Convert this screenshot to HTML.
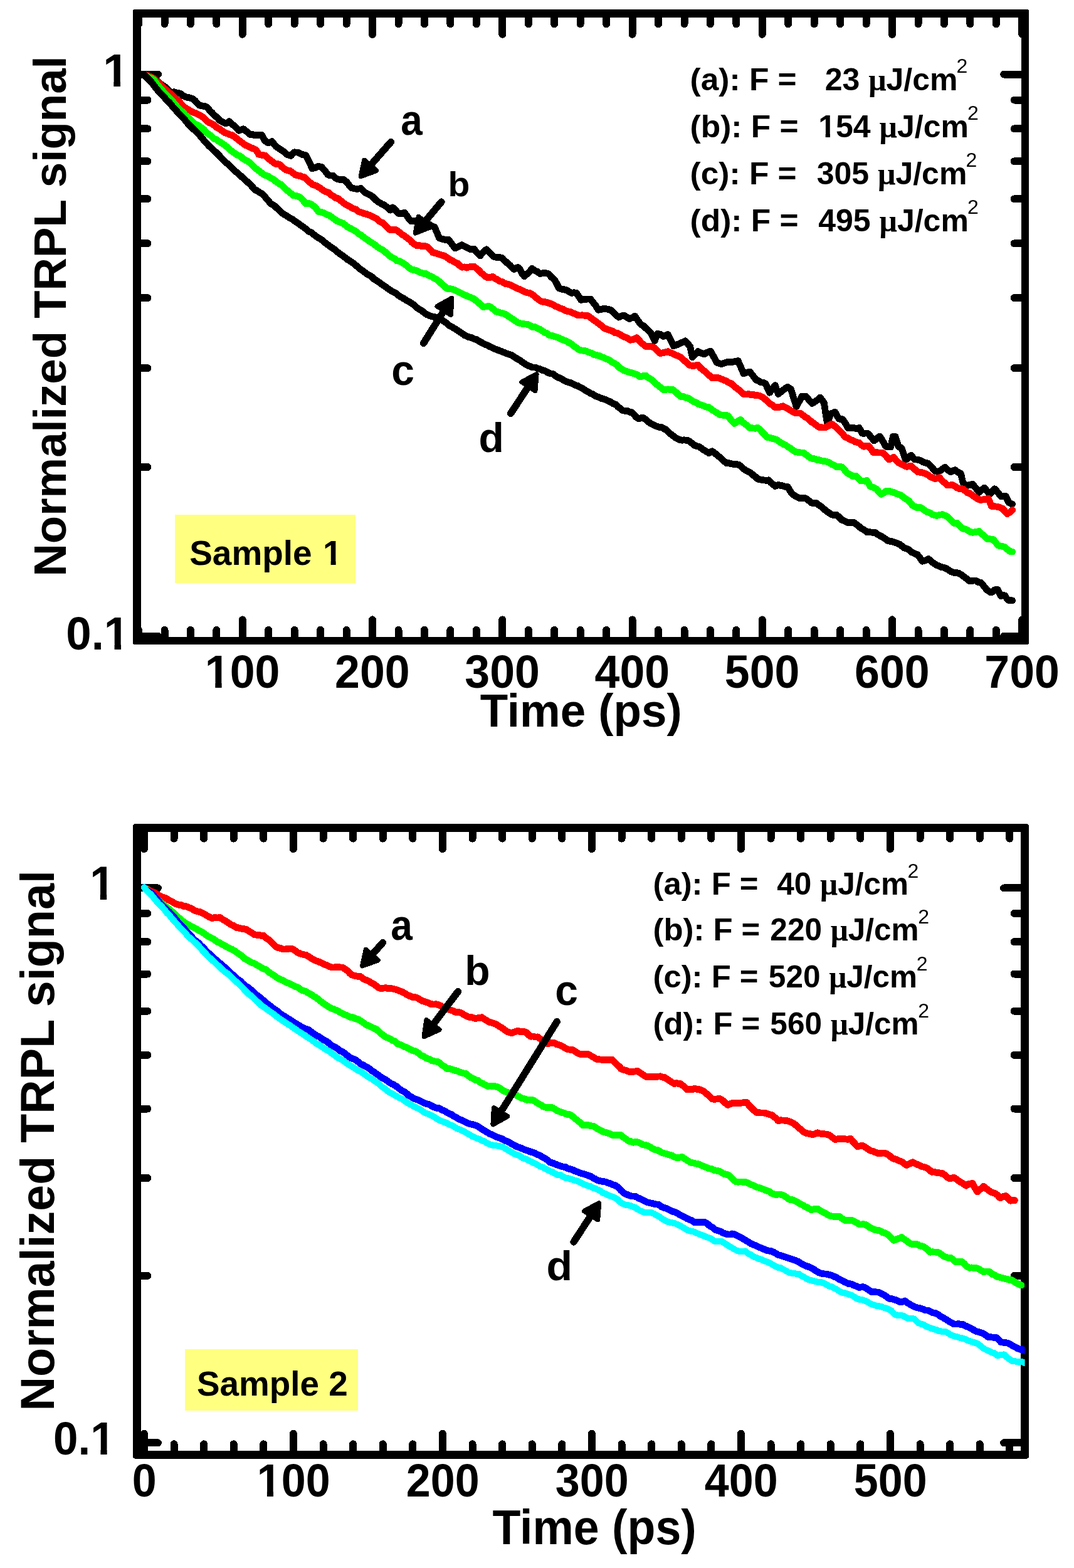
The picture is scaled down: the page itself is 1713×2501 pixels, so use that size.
<!DOCTYPE html>
<html lang="en">
<head>
<meta charset="utf-8">
<title>Normalized TRPL signal vs Time (ps) - Sample 1 and Sample 2</title>
<style>
html, body { margin: 0; padding: 0; background: #fff; }
body { width: 1713px; height: 2501px; overflow: hidden; }
svg { display: block; }
text { font-family: "Liberation Sans", sans-serif; font-weight: bold; fill: #000; }
text.sup { font-weight: normal; }
.mu { font-family: "Liberation Serif", serif; }
.frame { fill: #000; stroke: none; shape-rendering: crispEdges; }
.ticks { fill: none; stroke: #000; stroke-linecap: round; shape-rendering: crispEdges; }
.curve { fill: none; stroke-linejoin: round; stroke-linecap: round; shape-rendering: crispEdges; }
.aline { stroke: #000; stroke-linecap: round; shape-rendering: crispEdges; }
.ahead { fill: #000; stroke: #000; stroke-linejoin: round; shape-rendering: crispEdges; }
.tag { fill: #ffff80; shape-rendering: crispEdges; }
</style>
</head>
<body>
<svg width="1713" height="2501" viewBox="0 0 1713 2501">
<defs>
<clipPath id="clipT"><rect x="218.5" y="21.3" width="1416.2" height="1000.6"/></clipPath>
<clipPath id="clipB"><rect x="218.4" y="1320.6" width="1416.2" height="999.7"/></clipPath>
<clipPath id="k1e"><path d="M-3000 -3000H3000V3000H-0.81V-8.54H-13.12V3000H-23.49V-8.54H-38.61V3000H-3000Z"/></clipPath>
<clipPath id="k1m"><path d="M-3000 -3000H3000V3000H-20.84V-8.54H-33.15V3000H-43.51V-8.54H-58.64V3000H-3000Z"/></clipPath>
<clipPath id="k154"><path d="M-3000 -3000H3000V3000H-212.41V-6.3H-220.88V3000H-228.23V-6.3H-238.66V3000H-3000Z"/></clipPath>
<clipPath id="ks1"><path d="M-3000 -3000H3000V3000H247.48V-6.91H237.96V3000H229.79V-6.91H218.08V3000H-3000Z"/></clipPath>
</defs>
<rect width="1713" height="2501" fill="#fff"/>
<g id="chart-sample1">
<g class="axes">
<path class="frame" fill-rule="evenodd" d="M214.8 15.1H1638.4Q1640.9 15.1 1640.9 17.6V1025.6Q1640.9 1028.1 1638.4 1028.1H214.8Q212.3 1028.1 212.3 1025.6V17.6Q212.3 15.1 214.8 15.1ZM224.7 27.5V1015.7H1628.5V27.5Z"/>
<path class="ticks" stroke-width="12" d="M221 21.3v17M221 1021.9v-17M262.5 21.3v17M262.5 1021.9v-17M303.9 21.3v17M303.9 1021.9v-17M345.4 21.3v17M345.4 1021.9v-17M386.8 21.3v33.5M386.8 1021.9v-33.5M428.2 21.3v17M428.2 1021.9v-17M469.7 21.3v17M469.7 1021.9v-17M511.1 21.3v17M511.1 1021.9v-17M552.6 21.3v17M552.6 1021.9v-17M594 21.3v33.5M594 1021.9v-33.5M635.5 21.3v17M635.5 1021.9v-17M677 21.3v17M677 1021.9v-17M718.4 21.3v17M718.4 1021.9v-17M759.8 21.3v17M759.8 1021.9v-17M801.3 21.3v33.5M801.3 1021.9v-33.5M842.8 21.3v17M842.8 1021.9v-17M884.2 21.3v17M884.2 1021.9v-17M925.6 21.3v17M925.6 1021.9v-17M967.1 21.3v17M967.1 1021.9v-17M1008.5 21.3v33.5M1008.5 1021.9v-33.5M1050 21.3v17M1050 1021.9v-17M1091.5 21.3v17M1091.5 1021.9v-17M1132.9 21.3v17M1132.9 1021.9v-17M1174.3 21.3v17M1174.3 1021.9v-17M1215.8 21.3v33.5M1215.8 1021.9v-33.5M1257.2 21.3v17M1257.2 1021.9v-17M1298.7 21.3v17M1298.7 1021.9v-17M1340.1 21.3v17M1340.1 1021.9v-17M1381.6 21.3v17M1381.6 1021.9v-17M1423 21.3v33.5M1423 1021.9v-33.5M1464.5 21.3v17M1464.5 1021.9v-17M1505.9 21.3v17M1505.9 1021.9v-17M1547.4 21.3v17M1547.4 1021.9v-17M1588.8 21.3v17M1588.8 1021.9v-17M1630.3 21.3v33.5M1630.3 1021.9v-33.5M218.5 118.5h33.5M1634.7 118.5h-33.5M218.5 1014.8h33.5M1634.7 1014.8h-33.5M218.5 745h17M1634.7 745h-17M218.5 587.2h17M1634.7 587.2h-17M218.5 475.2h17M1634.7 475.2h-17M218.5 388.3h17M1634.7 388.3h-17M218.5 317.3h17M1634.7 317.3h-17M218.5 257.3h17M1634.7 257.3h-17M218.5 205.4h17M1634.7 205.4h-17M218.5 159.5h17M1634.7 159.5h-17"/>
</g>
<g class="labels">
<text transform="translate(105.4 919.6) rotate(-90) scale(0.9954 1)" font-size="73">Normalized TRPL signal</text>
<text transform="translate(205.5 137.9) scale(1.03 1.035)" font-size="72" text-anchor="end" clip-path="url(#k1e)">1</text>
<text transform="translate(206.3 1036) scale(1.01 1.033)" font-size="72" text-anchor="end" clip-path="url(#k1e)">0.1</text>
<text transform="translate(386.6 1097.2) scale(0.995 1.033)" font-size="72" text-anchor="middle" clip-path="url(#k1m)">100</text>
<text transform="translate(593.85 1097.2) scale(0.995 1.033)" font-size="72" text-anchor="middle">200</text>
<text transform="translate(801.1 1097.2) scale(0.995 1.033)" font-size="72" text-anchor="middle">300</text>
<text transform="translate(1008.35 1097.2) scale(0.995 1.033)" font-size="72" text-anchor="middle">400</text>
<text transform="translate(1215.6 1097.2) scale(0.995 1.033)" font-size="72" text-anchor="middle">500</text>
<text transform="translate(1422.85 1097.2) scale(0.995 1.033)" font-size="72" text-anchor="middle">600</text>
<text transform="translate(1630.1 1097.2) scale(0.995 1.033)" font-size="72" text-anchor="middle">700</text>
<text transform="translate(926.65 1158.9) scale(1.01 1.024)" font-size="72" text-anchor="middle">Time (ps)</text>
<text transform="translate(1100.6 144.4) scale(1.029 1)" font-size="50" xml:space="preserve">(a): F =</text><text x="1527.5" y="144.4" font-size="50" text-anchor="end">23 <tspan class="mu">μ</tspan>J/cm</text><text x="1525.5" y="116.4" font-size="32" class="sup">2</text>
<text transform="translate(1100.6 218.8) scale(1.029 1)" font-size="50" xml:space="preserve">(b): F =</text><text transform="translate(1544.9 218.8)" font-size="50" text-anchor="end" clip-path="url(#k154)">154 <tspan class="mu">μ</tspan>J/cm</text><text x="1542.9" y="190.8" font-size="32" class="sup">2</text>
<text transform="translate(1100.6 294.2) scale(1.029 1)" font-size="50" xml:space="preserve">(c): F =</text><text x="1542.4" y="294.2" font-size="50" text-anchor="end">305 <tspan class="mu">μ</tspan>J/cm</text><text x="1540.4" y="266.2" font-size="32" class="sup">2</text>
<text transform="translate(1100.6 369) scale(1.029 1)" font-size="50" xml:space="preserve">(d): F =</text><text x="1544.9" y="369" font-size="50" text-anchor="end">495 <tspan class="mu">μ</tspan>J/cm</text><text x="1542.9" y="341" font-size="32" class="sup">2</text>
</g>
<g class="curves" clip-path="url(#clipT)">
<polyline class="curve" stroke="#000" stroke-width="10.8" points="229.3,118.5 233.3,120 237.2,122.2 241.2,123.4 245.1,124.4 249.3,127.8 253.5,131.4 257.7,135.1 261,137.2 264.4,139.6 267.7,143.2 272.8,147.3 277.8,146.7 281.1,147.9 284.5,148.5 287.8,149.2 291.2,152.5 294.5,153.9 297.9,155.3 301.2,155.6 304.6,156.7 307.9,157.7 311.3,160.9 314.6,164.3 318,167.9 321.3,168.6 324.7,169.4 328,169.7 331.4,172.3 334.7,176.7 338.1,179.7 342.3,184.1 346.5,187.7 350.7,192.3 354.4,194.1 358.2,196.4 362,196.3 365.7,193.8 369.5,197.7 373.3,200.4 377,204.1 380.8,208.2 384.6,206.9 388.3,205.8 391.7,208.6 395,211 398.4,214.4 401.9,214.2 405.5,215.5 409,215.1 412.6,215.6 417.6,215.4 422.6,224.6 427.6,227.8 430.8,227 433.9,225.5 437.1,229.8 440.2,233.6 443.3,235.8 446.5,237.7 449.6,240 452.8,242 455.9,245.2 459,247 464.1,248.4 469.1,242.8 472.2,243 475.4,243.2 478.5,245 481.7,246.5 484.8,247 487.9,247.9 493,257.9 498,268.7 503,267.6 508,265.3 513.1,266.5 516.2,270.2 519.3,273.6 523.1,278.8 526.9,280 530.7,279.9 535.7,284.3 538.8,285.9 542,286.3 545.1,286.4 548.2,286.5 553.3,290.6 557,295.6 560.8,299.7 565.8,301 569.2,301.2 572.5,301.1 575.9,300.6 579,303.7 582.2,307 585.3,308.8 588.4,310.1 591.6,311.8 594.7,314.1 600,319.6 600,319.4 604.2,322.6 608.4,325.1 612.6,327 615.9,329.3 619.3,332.3 622.6,335.2 626.4,330.9 630.8,335.1 635.2,340.2 638.5,340.5 641.9,340.3 645.2,339.1 648.6,343.7 651.9,348.7 655.3,352.6 659,352.3 662.8,352.7 666.6,350.9 670.4,350.3 673.7,352.2 677.1,353.9 680.4,356.5 684.6,358 688.8,360.8 693,362 696.7,370.4 700.5,379.5 704.3,381 708,381.9 711.8,382.7 715.6,382.4 718.9,386.9 722.3,391.4 725.6,396 729.4,394.5 733.2,392.3 736.9,390.7 741.5,393.2 746.1,395.4 750.8,398 755.8,397 759.1,401.1 762.5,404.4 765.8,408 769.2,403.6 772.5,400.9 775.9,397.7 780.1,401.8 784.3,406 788.4,410 792.6,410.3 796.8,410.5 801,411.6 805.2,415.9 809.4,419.8 813.6,423.2 816.7,426.9 819.8,429.5 823,427.4 826.1,426.5 829.5,430.1 832.8,436.4 836.2,440.7 840.4,437.1 844.6,433.3 848.7,428.6 852.9,431.4 857.1,433.3 861.3,436.6 865.9,435.7 870.5,435.7 875.1,436.8 879.5,442.1 883.9,445.6 887.7,451.8 891.5,459.5 895.6,461.2 899.8,461.8 904,462.8 907.8,465.2 911.6,467.4 915.3,466.8 919.1,467.2 922.9,472.5 926.6,478.4 930.4,477.8 934.2,477.5 937.9,476.9 941.7,476.9 945.9,482.2 950.1,487.5 954.3,494.3 957.6,493.9 961,492.9 964.3,492 967.7,493 971,493.6 974.4,494.8 978.6,498.8 982.7,502.5 986.9,506.1 991,504.1 995.1,503 999.5,505.9 1003.9,508.4 1008.3,506.8 1012.7,504.2 1016,509 1019.4,514 1022.7,517.8 1026.5,519.9 1030.3,523.8 1034,526.7 1037.8,530.6 1040.9,536.9 1044.1,543.6 1049.1,532.3 1053.5,533.5 1057.9,536.6 1061.7,535 1065.4,533.5 1069.8,542.3 1074.2,551.7 1078.6,550.2 1083,548.6 1086.4,546.6 1089.7,545.7 1093.1,543.8 1096.8,548.1 1100.6,552.6 1104.4,569.9 1108.8,565.2 1113.2,560.4 1116.5,562.6 1119.9,563.6 1123.2,564.9 1126.6,562.7 1129.9,561.7 1133.3,560 1136.6,565.9 1140,572.1 1143.3,578.3 1147.1,579.5 1150.9,580.6 1154.2,579.5 1157.6,578.1 1160.9,577.2 1165,577.7 1169.1,577.2 1173.2,576.4 1177.2,575.6 1181.6,585.6 1186,595.8 1189.4,594.6 1192.7,593.9 1196.1,593.2 1199.4,597.4 1202.8,601.7 1206.1,606 1209.9,607.4 1213.7,609.8 1217.4,610.3 1221.2,612.3 1224.3,619.2 1227.5,626.2 1231.9,620.3 1236.3,614.7 1241.3,628.5 1245.1,625.5 1248.8,622.3 1252.6,619.5 1256.4,617.3 1261.4,620.7 1265.8,634.6 1270.2,648.6 1274.6,640.3 1279,631.9 1282.1,632.4 1285.3,632 1288.6,635.7 1292,640.2 1295.3,643.4 1299.5,640.8 1303.7,638.1 1307.9,634.1 1311,637.9 1314.2,642.2 1319.2,673.3 1322.3,667.1 1325.5,659.4 1328.6,658.7 1331.8,657.2 1334.9,662.6 1338,668.1 1344,668.6 1348.4,675.4 1352.8,682.9 1356.5,682.1 1360.3,682.3 1363.7,683.1 1367,683.8 1370.4,682.5 1375.4,691.3 1378.7,691.2 1382.1,690.9 1385.4,692.2 1389.8,697.9 1394.2,702.9 1398.6,699.6 1403,695.9 1406.4,700.8 1409.7,706.5 1413.1,712.5 1416.8,712.7 1420.6,712.9 1424.4,696.4 1428.1,696.6 1433.2,712.6 1438.2,714.8 1441.3,724.6 1444.5,733.5 1448.9,730.4 1453.3,726.3 1458.3,732.7 1463.3,733.2 1467.5,734.2 1471.7,736.6 1475.9,738 1480.9,739.5 1484.3,743.1 1487.6,747 1491,751.3 1496,752.1 1499.7,750.7 1503.5,747.9 1507.3,745.3 1511.7,749.5 1516.1,752.7 1519.8,750.8 1523.6,749.6 1528,753.3 1532.4,755.2 1536.2,770.7 1539.9,772.9 1543.7,774.4 1547.5,773.2 1551.3,772.1 1554.6,776.5 1558,780.6 1561.3,785.3 1565.7,781.7 1570.1,778 1574.5,783.7 1578.9,788.5 1582.7,783.3 1586.4,779.7 1589.8,783.3 1593.1,787.4 1596.5,791.7 1600.3,791.7 1604,791.4 1609,801.6 1614.6,804"/>
<polyline class="curve" stroke="#f00" stroke-width="10.8" points="229.3,118.5 233.3,119.8 237.2,121.5 241.2,123 245.1,125.3 249.3,129.1 253.5,132.6 257.7,137.3 261.9,140.9 266.1,144.3 270.3,148 274.4,151.5 278.6,155.5 282.8,159.4 287,163.6 291.2,168 295.4,172 299.6,174.2 303.8,176.9 307.9,179.1 312.1,180.5 316.3,182.8 320.5,184.7 324.7,187.7 328.9,192 333.1,195.3 337.3,197.2 341.4,199.5 345.6,203.1 349.8,205.4 354,208.5 358.2,211.4 362.4,213 366.6,214.7 370.8,215.8 374.9,218.9 379.1,222.2 383.3,225.4 387.5,228.5 391.7,231.7 395.9,233.3 400.1,235.7 404.3,237.1 408.4,239 412.6,246.2 416.3,247.1 420.1,247.6 423.2,248.3 426.4,251.5 430.2,254.6 433.9,257.5 437.1,259.9 440.2,261.5 443.3,261.5 446.5,262.7 449.6,266.2 452.8,268.9 455.9,270.7 459,272.1 462.2,272.3 465.3,274.3 468.5,277 471.6,279.1 475.4,280 479.1,280.7 482.3,282.4 485.4,282.7 488.6,285.9 491.7,288.8 494.8,291.4 498,293.9 501.8,295.5 505.5,296.7 508.7,298.8 511.8,300.7 514.9,303.1 518.1,305.3 521.2,306.3 524.4,307.4 527.5,310.7 530.7,312.3 534.6,315.2 538.6,316.3 542.6,319.4 546.6,322.5 550.8,325.9 555,327.8 559.2,330.4 563.4,332.7 567.6,334 571.8,337.3 575.9,338.8 580.1,340.4 584.3,341.4 588.5,343 592.7,344.7 596.9,346.8 601.3,349.4 605.7,353.5 610.1,355.1 613.8,358.8 617.6,362.7 621.4,366.4 625.8,366.6 630.2,366.1 633.9,368 637.7,371 641.5,374.4 645.2,376.3 649.2,379.5 653.3,382.5 657.3,386.8 661.3,389.6 665.3,392.1 669.1,391.7 672.9,392.7 676.6,392.1 680.4,393.1 683.8,395.5 687.1,399.2 690.5,402.9 693.8,403.4 697.2,404.4 700.5,405.7 704.7,407 708.9,408.1 713.1,410.8 717.3,414 721.4,415.8 725.6,418.4 729.4,419.9 733.2,423.8 736.9,426.2 740.7,425.9 744.5,427.1 748.2,425.9 752,425.8 755.8,425.1 759.8,427.9 763.8,431.3 767.8,435.5 771.9,438.7 775.9,442.3 779.2,442.7 782.6,442.2 785.9,441.2 789.7,444.2 793.5,446 797.2,448.5 801,449.5 805.2,452.3 809.4,453.1 813.6,454.2 817.8,456.3 821.9,458.3 826.1,460.6 830.2,461.9 834.2,463.9 838.2,466.1 842.2,467 846.2,467.8 850.6,471 855,474.7 859.4,478.3 863.8,481.1 868,481.4 872.2,482.4 876.4,483.8 880.6,485.2 884.8,487.8 888.9,489.6 893.1,491.4 897.3,492.8 901.5,495.4 905.5,496.7 909.5,497.3 913.6,499.4 917.6,500.7 921.6,502.8 925.4,503 929.1,502.8 932.9,503.3 936.7,503.3 940.5,505.5 944.2,508.3 948,511.3 951.8,513.8 955.9,517 960.1,520.1 964.3,523.8 968.5,525.2 972.7,526.8 976.9,528 980.5,530.7 984.2,531.2 987.8,532.9 991.4,535 995.1,537.2 998.4,538.3 1001.8,539.9 1005.1,542.3 1008.5,541.8 1011.8,541 1015.2,538.7 1018.9,542.4 1022.7,546.5 1026.5,549.8 1030.3,552.6 1034.4,552.8 1038.6,552.7 1042.8,554.2 1046.2,557.4 1049.5,560.6 1052.9,563.6 1057.1,562.9 1061.2,561.8 1065.4,560.8 1069.4,562.6 1073.5,564.3 1077.5,566.2 1081.5,567.8 1085.5,569.9 1089.3,573.1 1093.1,576.5 1096.8,579.9 1100.6,582.9 1104.8,583.5 1109,583.1 1113.2,582.3 1116.9,586.4 1120.7,589.8 1124.5,592.5 1128.2,596.1 1132,599.5 1135.8,602.7 1139.1,602.2 1142.5,602.8 1145.8,602.7 1149.8,604.3 1153.9,606 1157.9,607.6 1161.9,610 1165.9,611.4 1169.9,615.2 1174,618.6 1178,621.5 1182,625 1186,628.6 1189.8,629.1 1193.6,628.6 1197.3,629.4 1201.1,629.2 1204.9,630.7 1208.6,630.8 1212.4,631.5 1216.2,633.6 1220.2,636.7 1224.2,640.1 1228.2,643.9 1232.3,646.1 1236.3,649.7 1240.5,649.8 1244.7,649 1248.8,647.8 1252.9,650.1 1256.9,652.1 1260.9,654.6 1264.9,657.2 1268.9,659 1272.7,659 1276.5,659 1280.3,662 1284,664.9 1287.8,666.9 1291.6,670.3 1295.3,673.7 1299.1,675.9 1302.9,679 1306.6,681.5 1310,681.7 1313.3,682.1 1316.7,681.6 1320,679.8 1323.4,678 1326.7,676.4 1330.1,678.9 1333.4,681.2 1336.8,684.5 1340.4,688.4 1344.1,692.1 1347.7,696.8 1351.9,698.6 1356.1,701.2 1360.3,702.5 1363.7,704.7 1367,705.5 1370.4,706.3 1374.1,709.8 1377.9,712.3 1381.7,711.4 1385.4,711.3 1389.2,716.3 1393,721.7 1396.7,721.8 1400.5,721.9 1404.3,722 1408,722.3 1411.4,725.4 1414.7,729.2 1418.1,732.8 1421.9,730.8 1425.6,729.5 1429.4,734.5 1433.2,738 1436.5,739.8 1439.9,741.4 1443.2,743.3 1446.6,744.3 1449.9,743.5 1453.3,743.4 1456.6,746.7 1460,749.4 1463.3,752.5 1466.7,753.1 1470,753.7 1473.4,754.5 1477.1,756 1480.9,758.1 1484.3,760.7 1487.6,761.9 1491,763.6 1494.7,762.6 1498.5,761.7 1502.7,767 1506.9,770.3 1511.1,774 1514.8,774 1518.6,773.3 1522.4,775 1526.1,777.9 1529.5,779.3 1532.8,779.3 1536.2,780.2 1539.5,782.9 1542.9,786 1546.2,786.5 1550.4,789.4 1554.6,792.6 1558.8,795.2 1563.8,797.6 1568,796.8 1572.2,796.6 1576.4,795.3 1581.4,807.3 1584.8,807.7 1588.1,807.9 1591.5,808.4 1595.2,809.6 1599,811.2 1602.8,815.4 1606.5,819.6 1610.6,817.1 1614.6,813.5"/>
<polyline class="curve" stroke="#0f0" stroke-width="10.8" points="229.3,118.5 233.3,121.5 237.2,123.1 241.2,124.5 245.1,127.3 249.3,132.8 253.5,138 257.7,143.2 261.9,147.6 266.1,151.8 270.3,156.1 274.4,160.8 278.6,165.4 282.8,170.7 287,175.1 291.2,178.5 295.4,183.2 299.6,186.9 303.8,191.2 307.9,195.5 312.1,198.2 316.3,199.9 320.5,203.3 324.7,206.2 328.9,211.1 333.1,214.3 337.3,217.2 341.4,221.1 345.6,222.9 349.8,226 354,228.4 358.2,231.4 362.4,234.6 366.6,238.6 370.8,241.9 374.9,244.6 379.1,247.5 383.3,249 387.5,252.9 391.7,255.6 395.9,257.6 400.1,261 404.3,265.1 408.4,269 413.8,273 417,275.6 420.1,278.3 423.9,280 427.6,280.9 431.4,283.8 435.2,285.6 438.3,287.8 441.5,290.8 445.2,293 449,294.7 452.1,298.1 455.3,301.1 458.4,303.9 461.6,306.7 464.7,309.1 467.8,311.7 471.6,312.4 475.4,313.2 478.5,314.6 481.7,317.8 484.8,321.2 487.9,324.7 491.7,324.3 495.5,325.1 498.6,327.6 501.8,329.5 504.9,333.7 508,337.6 512.5,338.2 517,339.9 521.5,342.2 525.7,343.8 529.9,346.8 534.1,350 538.3,353 542.4,354.2 546.6,356 550.8,359 555,362.4 559.2,364.3 563.4,366.7 567.6,369.1 571.8,372.8 575.9,375.2 580.1,378.3 584.3,381.3 588.5,384.5 592.7,387.1 596.9,389.7 600.8,392.9 604.7,395.7 608.6,397.6 612.6,400.3 616.8,404.2 620.9,407.6 625.1,410.6 628.9,412.4 632.7,415.6 636.4,416.4 640.2,417.8 644,420.6 647.7,422.9 651.5,426.3 655.3,429.2 659.3,430.6 663.3,431.1 667.3,433.3 671.4,435 675.4,436.2 679.4,436.7 683.4,439.1 687.4,440.8 691.5,443.1 695.5,445.2 699.9,448.5 704.3,452.8 708.7,456.3 713.1,460.4 717.3,460.4 721.4,461.2 725.6,462.8 729.4,464.9 733.2,466.5 736.9,468.3 740.7,470.4 744.5,471.9 748.2,473.6 752,474.9 755.8,476.5 759.5,479.9 763.3,482.8 767.1,486.4 770.9,489.5 774.2,489.1 777.6,488.8 780.9,488.7 784.3,491.2 787.6,493.6 791,496.9 794.7,497.8 798.5,499.2 802.3,499.9 806,501 810.1,503.9 814.1,506.4 818.1,509.4 822.1,511.8 826.1,514.5 829.9,515.7 833.7,516.5 837.4,517 841.2,517.2 845.2,519.2 849.2,521.6 853.3,521.6 857.3,523.8 861.3,525.3 865.1,527.9 868.8,530.4 872.6,531.7 876.4,534.8 880.2,535.3 883.9,536.4 887.7,537.9 891.5,539 895.2,541 899,542.5 902.8,543.9 906.5,546 910.6,548.1 914.6,551.6 918.6,554.2 922.6,557.3 926.6,558.8 930.8,559.3 935,560 939.2,562 943.4,563.3 947.6,565.6 951.8,566.6 955.8,567.6 959.8,569.5 963.8,570.9 967.8,572.7 971.9,574.4 975.7,577.2 979.6,579.2 983.5,581.7 987.3,585.9 991.2,588.2 995.1,591 998.8,592.2 1002.6,593.4 1006.4,594.5 1010.2,595.4 1013.5,596.9 1016.9,597.8 1020.2,600.8 1023.6,600.3 1026.9,599.2 1030.3,599.3 1034,602.6 1037.8,604.5 1041.6,607.3 1045.3,611.2 1049.5,614.7 1053.7,618 1057.9,621.7 1061.7,621.3 1065.4,620.9 1069.2,621.7 1073,621.3 1077.2,624.8 1081.3,628.8 1085.5,632.4 1089.7,632.5 1093.9,634.5 1098.1,635 1102.3,638.3 1106.5,640.6 1110.7,642.3 1114.7,644.8 1118.7,646.1 1122.7,647.3 1126.7,649.1 1130.8,649.8 1135.2,653.3 1139.5,656 1143.9,658.9 1148.3,661.5 1152.5,662.2 1156.7,662.4 1160.9,662.9 1164.3,667.7 1167.6,671.5 1171,675.4 1174.3,673.7 1177.7,671.4 1181,669.5 1184.8,673.5 1188.5,676.4 1192.3,679 1196.1,682.8 1200.3,682.8 1204.5,683.3 1208.6,682.3 1212.4,685.6 1216.2,689.7 1219.9,693.5 1223.7,697.5 1227.5,698.1 1231.3,699.3 1235,700 1238.8,701.5 1242.6,704.1 1246.3,706.7 1250.1,708.8 1253.9,710.6 1257.6,713.1 1261.4,715.4 1265.2,718.3 1268.9,720.8 1273.1,721.3 1277.3,722 1281.5,722.2 1285.7,725.3 1289.9,728.4 1294.1,731.1 1298.3,731.5 1302.4,733.3 1306.6,733.6 1310.8,735 1315,735.7 1319.2,736.5 1323,738.1 1326.7,740.7 1330.5,742.3 1334.3,744.8 1338.5,744.5 1342.7,744.8 1346.5,748.7 1350.3,753.3 1353.6,755.9 1357,757.6 1360.3,759.5 1365.3,759 1369.1,763.1 1372.9,766.9 1376.2,767 1379.6,767.2 1382.9,766.5 1387.9,775.7 1391.3,776.9 1394.6,778.3 1398,780.1 1401.8,784.6 1405.5,788.2 1409.3,786.2 1413.1,783.4 1416.4,783.7 1419.8,783.7 1423.1,784.9 1426.5,785.7 1429.8,787.4 1433.2,788.5 1437.4,790.2 1441.5,793.4 1445.7,796.2 1449.1,798.4 1452.4,802.2 1455.8,806.6 1459.5,808 1463.3,810 1468.3,809.4 1471.7,811.8 1475,814.2 1478.4,816.5 1482.6,817.6 1486.8,820.5 1491,822 1495.1,822.3 1499.3,821.1 1503.5,820.6 1507.3,822.4 1511.1,823.9 1514.4,827.3 1517.8,830.7 1521.1,834.3 1526.1,834.2 1529.9,837.8 1533.7,841.7 1537.4,843.5 1541.2,844.4 1544.6,846.5 1547.9,848.4 1551.3,849.3 1554.6,848.7 1558,848.2 1561.3,847.4 1565.5,851.4 1569.7,854.7 1573.9,859.3 1577.2,859.3 1580.6,860.2 1583.9,860.3 1587.7,864.6 1591.5,869.7 1594.8,870.7 1598.2,871.3 1601.5,872.1 1605.9,875.6 1610.3,879.3 1614.6,880.1"/>
<polyline class="curve" stroke="#000" stroke-width="10.8" points="229.3,118.5 232.6,122.2 236.8,126.2 240.9,130.3 245.1,135.7 249.3,141.4 253.5,146.4 257.7,150.7 261.9,155 266.1,160.2 270.3,163.6 274.4,168.9 278.6,173.7 282.8,178.4 287,183.2 291.2,187.2 295.4,191.7 299.6,197.2 303.8,201.3 307.9,205.5 312.1,209 316.3,213.2 320.5,218.1 324.7,223.3 328.9,228 333.1,232.6 337.3,236.4 341.4,240.1 345.6,244.1 349.8,248.3 354,253.2 358.2,257.5 362.4,260.7 366.6,264.5 370.8,268.9 374.9,272.7 379.1,276.2 383.3,279.9 387.5,283.8 391.7,287.5 395.9,291.3 399.3,294.4 402.8,298.3 406.3,302.4 410.1,304.3 413.8,306.8 417,308.6 420.1,310.9 423.2,314.7 426.4,318.2 431.4,324.4 434.5,326.4 437.7,328.3 440.8,331.2 444,334.2 447.1,337.4 450.3,339.9 454.5,342.9 458.7,345.2 462.9,348 467.1,350.3 471.3,353.3 475.4,356.2 479.6,359.2 483.8,362 488,365.2 492.2,369 496.4,370.8 500.6,374.2 504.8,377.3 508.9,380 513.1,382.4 517.3,386.4 521.5,389.2 525.7,392.8 529.9,395.4 534.1,398.1 538.3,401.9 542.4,405.2 546.6,408 550.8,411 555,414.4 559.2,417 563.4,419.8 567.6,423.2 571.8,426.9 575.9,430.2 580.1,432.9 584.3,436.4 588.5,438.8 592.7,441.3 596.9,445.4 600.8,447.5 604.6,450.3 608.5,453.1 612.4,455.7 616.2,458.4 620.1,461.4 624.1,463.9 628.1,465.9 632.2,468.4 636.2,471.6 640.2,474.2 644.2,476.4 648.2,479.1 652.3,481.3 656.3,483.6 660.3,486.4 664.3,490.5 668.3,493.1 672.4,495.2 676.4,498.6 680.4,501.5 684.4,503.2 688.4,504.8 692.5,505.5 696.5,506.5 700.5,507 704.5,510.4 708.5,512.7 712.6,515.5 716.6,519.5 720.6,521.3 724.6,523.8 728.6,526.2 732.7,528.9 736.7,531.6 740.7,534.6 744.7,536.3 748.7,538 752.8,538.8 756.8,540.8 760.8,541.9 764.8,544.7 768.8,546.6 772.9,549.1 776.9,550.6 780.9,552.7 784.9,554.4 788.9,556.4 793,558 797,559.4 801,561 805,562.6 809,564.1 813.1,565.6 817.1,567 821.1,570.2 825.1,572.3 829.1,574.4 833.2,577.7 837.2,580.3 841.2,582.7 845.2,584.3 849.2,585.9 853.3,586 857.3,587.6 861.3,588.5 865.3,590.5 869.3,591.6 873.4,594 877.4,595.9 881.4,596 885.4,599.1 889.4,601.9 893.5,603.1 897.5,605.6 901.5,607.8 905.5,609.4 909.5,610.5 913.6,612.4 917.6,614.3 921.6,615.5 925.6,617.9 929.6,619.6 933.7,622.7 937.7,624.7 941.7,627.5 945.7,628.8 949.7,631.8 953.8,633 957.8,635 961.8,636.1 965.8,637.6 969.8,639.5 973.9,641 977.9,643.8 981.9,645 985.5,648.9 989,651.3 992.6,654.3 996.3,655.4 1000.1,655.3 1003.9,657.1 1007.6,657.8 1011,660.9 1014.3,665 1017.7,667.6 1021.5,667.1 1025.2,665.9 1029.4,668.8 1033.6,672.7 1037.8,675.5 1042.2,677.8 1046.6,679.8 1051,681.3 1055.4,681.6 1058.7,683.6 1062.1,685.3 1065.4,688.2 1069.6,692.2 1073.8,695.3 1078,698.7 1081.3,700 1084.7,701.6 1088,702.2 1091.4,701.8 1094.7,702.4 1098.1,702.7 1101.4,705.3 1104.8,707.7 1108.1,710.5 1111.5,711.7 1114.8,712.5 1118.2,714.5 1122.4,717.7 1126.6,720.1 1130.8,722.7 1135.8,719.8 1139.1,722.1 1142.5,724.8 1145.8,727.5 1150,731 1154.2,735 1158.4,738.5 1162.6,738.7 1166.8,739.8 1171,740.6 1174.7,740.4 1178.5,741.3 1181.8,743.7 1185.2,747.3 1188.5,749.4 1191.9,751.5 1195.2,752.9 1198.6,755.3 1201.9,758.4 1205.3,760.8 1208.6,764.1 1213,765 1217.4,765.7 1221.8,766.3 1226.2,765.8 1229.6,770 1232.9,772.5 1236.3,775.5 1241.3,773.4 1245.1,774.5 1248.8,774.9 1252.6,776.3 1256.4,776.6 1260.2,783 1263.9,788.3 1268.1,791 1272.3,793.2 1276.5,794.9 1280.3,794.8 1284,794.6 1287.4,796.4 1290.7,799 1294.1,802.1 1297.8,802.9 1301.6,802.2 1305.8,805.5 1310,808.3 1314.2,811.8 1318.4,815.5 1322.5,818.1 1326.7,821 1330.5,821.4 1334.3,821.2 1338.5,824.9 1342.7,829.2 1346.1,830.7 1349.4,832.4 1352.8,833.7 1356.1,833.5 1359.5,833.8 1362.8,833.7 1366.2,836.7 1369.5,839.1 1372.9,842.2 1376.2,844.1 1379.6,846.3 1382.9,848.8 1387.1,848.6 1391.3,849.3 1395.5,849 1399.7,852.3 1403.9,854.7 1408,856.7 1411.8,859.3 1415.6,862.2 1419.3,863.4 1423.1,863.9 1427.3,865.4 1431.5,866.6 1435.7,868.6 1439,871.4 1442.4,874 1445.7,875 1449.5,876.9 1453.3,880.4 1456.6,881.9 1460,883.5 1463.3,884.7 1467.1,889.5 1470.9,895.3 1474.2,894.4 1477.6,893.3 1480.9,891.6 1484.3,894.1 1487.6,897.2 1491,899.7 1494.3,901.5 1497.7,902.7 1501,904.6 1506,905.3 1509.8,907.1 1513.6,909.5 1517.3,912 1521.1,913.3 1524.9,913.6 1528.6,914 1532,916 1535.3,918.1 1538.7,920.7 1542.5,923.8 1546.2,926.8 1549.6,926.9 1552.9,925.9 1556.3,926.1 1560.1,928.5 1563.8,929 1567.2,932.5 1570.5,936.5 1573.9,940.8 1577,943 1580.2,945 1583.3,944 1586.4,940.8 1591.5,940.7 1596.5,950.7 1599.6,949.3 1602.8,950.1 1605.9,954.9 1609,957.7 1614.6,957.9"/>
</g>
<g class="annot">
<rect class="tag" x="278.9" y="820.9" width="288.2" height="109.1"/>
<text transform="translate(302.2 901.3) scale(0.981 1)" font-size="56" clip-path="url(#ks1)">Sample <tspan dx="2.2">1</tspan></text>
<text transform="translate(639.3 214.8) scale(0.94 1.04)" font-size="66">a</text>
<text transform="translate(714.6 313.3) scale(1.02 1)" font-size="56">b</text>
<text transform="translate(624.3 613.6) scale(1 1.05)" font-size="66">c</text>
<text x="763.4" y="720.7" font-size="66">d</text>
<line class="aline" x1="623.5" y1="226.5" x2="589.4" y2="265.4" stroke-width="11.3"/><polygon class="ahead" stroke-width="8" points="575.6,281.2 581.2,255.6 600.2,272.2"/>
<line class="aline" x1="704" y1="322" x2="676.1" y2="355.5" stroke-width="11.3"/><polygon class="ahead" stroke-width="8" points="662.6,371.6 667.7,345.8 687.1,362"/>
<line class="aline" x1="675.5" y1="547.5" x2="709.3" y2="493.6" stroke-width="11.3"/><polygon class="ahead" stroke-width="8" points="720.5,475.8 719,502 697.6,488.5"/>
<line class="aline" x1="814.5" y1="659.5" x2="844.1" y2="614.6" stroke-width="11.3"/><polygon class="ahead" stroke-width="8" points="855.6,597 853.5,623.2 832.4,609.3"/>
</g>
</g>
<g id="chart-sample2">
<g class="axes">
<path class="frame" fill-rule="evenodd" d="M214.7 1314.4H1638.3Q1640.8 1314.4 1640.8 1316.9V2324Q1640.8 2326.5 1638.3 2326.5H214.7Q212.2 2326.5 212.2 2324V1316.9Q212.2 1314.4 214.7 1314.4ZM224.6 1326.8V2314.1H1628.4V1326.8Z"/>
<path class="ticks" stroke-width="12" d="M229.9 1320.6v33.5M229.9 2320.3v-33.5M277.5 1320.6v17M277.5 2320.3v-17M325.1 1320.6v17M325.1 2320.3v-17M372.7 1320.6v17M372.7 2320.3v-17M420.3 1320.6v17M420.3 2320.3v-17M467.9 1320.6v33.5M467.9 2320.3v-33.5M515.5 1320.6v17M515.5 2320.3v-17M563.1 1320.6v17M563.1 2320.3v-17M610.7 1320.6v17M610.7 2320.3v-17M658.3 1320.6v17M658.3 2320.3v-17M705.9 1320.6v33.5M705.9 2320.3v-33.5M753.5 1320.6v17M753.5 2320.3v-17M801.1 1320.6v17M801.1 2320.3v-17M848.7 1320.6v17M848.7 2320.3v-17M896.3 1320.6v17M896.3 2320.3v-17M943.9 1320.6v33.5M943.9 2320.3v-33.5M991.5 1320.6v17M991.5 2320.3v-17M1039.1 1320.6v17M1039.1 2320.3v-17M1086.7 1320.6v17M1086.7 2320.3v-17M1134.3 1320.6v17M1134.3 2320.3v-17M1181.9 1320.6v33.5M1181.9 2320.3v-33.5M1229.5 1320.6v17M1229.5 2320.3v-17M1277.1 1320.6v17M1277.1 2320.3v-17M1324.7 1320.6v17M1324.7 2320.3v-17M1372.3 1320.6v17M1372.3 2320.3v-17M1419.9 1320.6v33.5M1419.9 2320.3v-33.5M1467.5 1320.6v17M1467.5 2320.3v-17M1515.1 1320.6v17M1515.1 2320.3v-17M1562.7 1320.6v17M1562.7 2320.3v-17M1610.3 1320.6v17M1610.3 2320.3v-17M218.4 1416.4h33.5M1634.6 1416.4h-33.5M218.4 2301.3h33.5M1634.6 2301.3h-33.5M218.4 2034.9h17M1634.6 2034.9h-17M218.4 1879.1h17M1634.6 1879.1h-17M218.4 1768.5h17M1634.6 1768.5h-17M218.4 1682.8h17M1634.6 1682.8h-17M218.4 1612.7h17M1634.6 1612.7h-17M218.4 1553.5h17M1634.6 1553.5h-17M218.4 1502.2h17M1634.6 1502.2h-17M218.4 1456.9h17M1634.6 1456.9h-17"/>
</g>
<g class="labels">
<text transform="translate(86.1 2250.4) rotate(-90) scale(0.9929 1)" font-size="76">Normalized TRPL signal</text>
<text transform="translate(183.3 1435.3) scale(1 1.05)" font-size="72" text-anchor="end" clip-path="url(#k1e)">1</text>
<text transform="translate(183.6 2320) scale(0.985 1.035)" font-size="72" text-anchor="end" clip-path="url(#k1e)">0.1</text>
<text transform="translate(230.2 2387.3) scale(0.972 1.04)" font-size="72" text-anchor="middle">0</text>
<text transform="translate(468.2 2387.3) scale(0.972 1.04)" font-size="72" text-anchor="middle" clip-path="url(#k1m)">100</text>
<text transform="translate(706.2 2387.3) scale(0.972 1.04)" font-size="72" text-anchor="middle">200</text>
<text transform="translate(944.2 2387.3) scale(0.972 1.04)" font-size="72" text-anchor="middle">300</text>
<text transform="translate(1182.2 2387.3) scale(0.972 1.04)" font-size="72" text-anchor="middle">400</text>
<text transform="translate(1420.2 2387.3) scale(0.972 1.04)" font-size="72" text-anchor="middle">500</text>
<text transform="translate(948.15 2463.2) scale(0.98 1.03)" font-size="75" text-anchor="middle">Time (ps)</text>
<text transform="translate(1041.5 1426.5) scale(1.017 1)" font-size="50" xml:space="preserve">(a): F =</text><text transform="translate(1449 1426.5) scale(0.99 1)" font-size="50" text-anchor="end">40 <tspan class="mu">μ</tspan>J/cm</text><text x="1447.6" y="1399.5" font-size="32" class="sup">2</text>
<text transform="translate(1041.5 1500.3) scale(1.017 1)" font-size="50" xml:space="preserve">(b): F =</text><text transform="translate(1465.6 1500.3) scale(0.99 1)" font-size="50" text-anchor="end">220 <tspan class="mu">μ</tspan>J/cm</text><text x="1464.2" y="1473.3" font-size="32" class="sup">2</text>
<text transform="translate(1041.5 1575.1) scale(1.017 1)" font-size="50" xml:space="preserve">(c): F =</text><text transform="translate(1463.1 1575.1) scale(0.99 1)" font-size="50" text-anchor="end">520 <tspan class="mu">μ</tspan>J/cm</text><text x="1461.7" y="1548.1" font-size="32" class="sup">2</text>
<text transform="translate(1041.5 1649.5) scale(1.017 1)" font-size="50" xml:space="preserve">(d): F =</text><text transform="translate(1465.6 1649.5) scale(0.99 1)" font-size="50" text-anchor="end">560 <tspan class="mu">μ</tspan>J/cm</text><text x="1464.2" y="1622.5" font-size="32" class="sup">2</text>
</g>
<g class="curves" clip-path="url(#clipB)">
<polyline class="curve" stroke="#f00" stroke-width="10.8" points="230,1415.5 233.8,1417.4 237.6,1420.1 241.3,1421.8 245.1,1423.2 249.1,1425.4 253.2,1427.9 257.2,1430.4 261.2,1431.6 265.2,1433.1 269.2,1435.5 273.3,1437.6 277.3,1440.1 281.3,1442 285.3,1443.3 289.5,1443.7 293.7,1445.8 297.9,1445.9 302.1,1447.8 306.3,1449.7 310.5,1452.5 313.8,1453.5 317.2,1454.2 320.5,1455.1 324.9,1457.5 329.3,1460 333.7,1462.6 338.1,1464.6 342.3,1463.5 346.5,1464.1 350.7,1463.4 355.1,1466.4 359.4,1468.7 363.8,1471.9 368.2,1474.6 372.4,1476.3 376.6,1479.3 380.8,1480 385,1481.3 389.2,1481.6 393.4,1482.7 397.6,1485.6 401.7,1488 405.9,1490.7 409.7,1491.3 413.5,1491.3 417.2,1492.4 421,1492.6 424.4,1496.2 427.7,1498.2 431.1,1500.9 434.4,1504.1 437.8,1507.8 441.1,1510.6 444.5,1511.9 447.8,1512.5 451.2,1513.9 454.9,1513.9 458.7,1513.6 462.5,1513 466.2,1513.4 470.4,1516 474.6,1519.2 478.8,1521.1 482.1,1522 485.5,1522.9 488.8,1523.6 492.6,1526 496.4,1528.5 500.2,1530.6 503.9,1532.6 508.1,1533.9 512.3,1535.7 516.5,1537.7 520.7,1539.5 524.9,1541.4 529,1543 533.4,1542.9 537.8,1542.6 542.2,1542.8 546.6,1543.3 550.4,1545.8 554.2,1548.3 557.9,1552.4 561.7,1555.2 565.9,1556.3 570.1,1557.2 574.3,1557.1 578,1560.2 581.8,1562.4 585.6,1563.8 589.3,1565.6 593.1,1568.1 596.9,1570.2 600.7,1573 604.4,1576 608,1576.3 611.5,1576.1 615.1,1575.6 619.5,1576.8 623.9,1576.6 628.3,1577.6 632.7,1578.6 637.1,1580.6 641.5,1582 645.9,1584.4 650.3,1587.3 654,1588.7 657.8,1590.4 661.6,1590.5 665.3,1591.5 669.5,1594.3 673.7,1596.6 677.9,1597.9 682.3,1599.4 686.7,1601.3 691.1,1602 695.5,1601.8 699.2,1602.7 703,1604.1 706.8,1606.6 710.6,1607.7 714.3,1608.9 718.1,1610.9 721.9,1612 725.6,1614.2 729,1614.2 732.3,1614.6 735.7,1615.8 739.9,1618.4 744.1,1620.5 748.2,1622.3 751.6,1622.4 754.9,1623.5 758.3,1624.7 761.6,1623.9 765,1623.6 768.3,1622.7 772.5,1625.7 776.7,1628.1 780.9,1630.4 784.3,1631.3 787.6,1632.4 791,1633.5 794.3,1635.6 797.7,1637.9 801,1639.8 804.8,1642.8 808.5,1645.2 812.3,1646.6 816.1,1648.1 819.4,1646.2 822.8,1645.3 826.1,1644.2 829.5,1645.7 832.8,1645.9 836.2,1645.6 839.5,1646.9 842.9,1650.5 846.2,1653.2 850,1652.9 853.8,1654 857.5,1653.9 861.3,1656.7 865.5,1659.7 869.7,1662.5 873.9,1664.9 877.2,1663.6 880.6,1663.9 883.9,1663.3 888.3,1665.9 892.7,1666.9 897.1,1668.8 901.5,1671.8 905.7,1673.9 909.9,1674.3 914.1,1674.8 918.3,1677.7 922.4,1680.2 926.6,1681.7 930,1681.5 933.3,1681.3 936.7,1681 940.5,1682.6 944.2,1685.2 948,1687.1 951.8,1689.5 955.9,1689.8 960.1,1690.3 964.3,1690.5 968.5,1690.9 972.7,1690.8 976.9,1690.6 981.1,1694.9 985.3,1699.1 989.4,1702.7 990.1,1704.9 993.8,1706.2 997.6,1707.1 1001.4,1708.7 1005.1,1710 1009.3,1709.5 1013.5,1708.9 1017.7,1708.7 1021.9,1711.8 1026.1,1714.7 1030.3,1717.2 1034,1717.8 1037.8,1717.4 1041.6,1717.2 1045.3,1717.3 1049.1,1717.2 1052.9,1716.8 1056.6,1718.1 1060.4,1718.5 1064.2,1721.5 1067.9,1723.7 1071.7,1726.3 1075.5,1728.6 1078.8,1727.6 1082.2,1728.6 1085.5,1728.7 1088.9,1731.4 1092.2,1734.3 1095.6,1737.8 1099.8,1737.8 1104,1737.7 1108.1,1736.2 1111.9,1737.3 1115.7,1737.6 1119.4,1739.4 1123.2,1741.3 1127.4,1744.8 1131.6,1748.9 1135.8,1752.9 1140,1753.4 1144.2,1752.8 1148.3,1752.4 1152.5,1755.1 1156.7,1759.2 1160.9,1762.5 1164.7,1760.8 1168.4,1759.5 1172.6,1759.4 1176.8,1759.4 1181,1759.2 1184.4,1759 1187.7,1758.4 1191.1,1758.4 1194.8,1763.3 1198.6,1767.2 1202.4,1770.8 1206.1,1774.3 1209.9,1774.6 1213.7,1775.1 1217.4,1775 1221.2,1775.5 1224.6,1776.8 1227.9,1777.7 1231.3,1778.7 1234.6,1781.3 1238,1784.1 1241.3,1787.9 1245.5,1786.8 1249.7,1787.1 1253.9,1787.2 1258.1,1788.5 1262.2,1790.1 1266.4,1792.1 1270.2,1795.5 1274,1798.8 1277.7,1801.9 1281.5,1805.4 1285.3,1807.2 1289,1808.1 1292.8,1808.8 1296.6,1809.7 1300.4,1808.3 1304.1,1806.8 1308.5,1808.2 1312.9,1808.8 1317.3,1809 1321.7,1810.1 1325.1,1812 1328.4,1814.8 1331.8,1817.6 1336.2,1816.8 1340.7,1816.4 1345.2,1816.5 1349,1817 1352.8,1817.3 1356.5,1816 1360.3,1820.9 1364.1,1824.7 1367.8,1828.7 1371.6,1827.9 1375.4,1827.2 1379.6,1829.4 1383.8,1832.3 1387.9,1835.1 1392.1,1836.3 1396.3,1838 1400.5,1839.5 1404.7,1839.4 1408.9,1839 1413.1,1839.8 1417.3,1842 1421.4,1845.8 1425.6,1848.4 1429,1849 1432.3,1850.7 1435.7,1852.1 1439,1853.5 1442.4,1856 1445.7,1858.6 1449.1,1857.1 1452.4,1855.6 1455.8,1853.8 1459.1,1855.7 1462.5,1857.1 1465.8,1858.4 1469.2,1860.3 1472.5,1861.1 1475.9,1862 1479.2,1863.6 1482.6,1866.2 1485.9,1869.3 1489.3,1869 1492.6,1870.2 1496,1870.3 1499.7,1871.1 1503.5,1871.6 1506.9,1874.2 1510.2,1877.3 1513.6,1879.4 1517.3,1879.4 1521.1,1878 1524.5,1880 1527.8,1883 1531.2,1885 1534.5,1886.6 1537.9,1889 1541.2,1891.2 1544.6,1888.7 1547.9,1887.9 1551.3,1887.6 1555,1894.7 1558.8,1901.1 1562.1,1898 1565.5,1895.4 1568.8,1892.3 1572.2,1895 1575.5,1897.6 1578.9,1900.2 1582.7,1902.2 1586.4,1903.1 1590.8,1906.1 1595.2,1910.7 1599.6,1908.8 1604,1907.5 1607.8,1911.4 1611.6,1915.2 1615,1914.3 1618.5,1914.6"/>
<polyline class="curve" stroke="#0f0" stroke-width="10.8" points="230,1415.5 233.8,1418.8 237.6,1422.5 241.3,1426.1 245.1,1430.4 249.3,1433.7 253.5,1436.8 257.7,1441.1 261.9,1444.2 266.1,1447.3 270.3,1450.5 274.4,1454 278.6,1458 282.8,1461.9 287,1465.3 291.2,1468.8 295.4,1472 299.6,1474.2 303.8,1476.9 307.9,1479.1 312.1,1480.9 316.3,1483.6 320.5,1485.9 324.7,1488.2 328.9,1491.6 333.1,1494.1 337.3,1495.9 341.4,1498.2 345.6,1501.9 349.8,1503.5 354,1505.9 358.2,1508.3 362.4,1510.5 366.6,1512.8 370.8,1514.6 374.9,1517.2 379.1,1520.1 383.3,1522.9 387.5,1526.4 391.7,1530 395.9,1532.1 400.1,1534.6 404.3,1536.3 408.4,1538.4 412.6,1540.8 416.8,1543.3 421,1545.5 425.2,1547 429.4,1551 433.6,1553.7 437.8,1556.2 441.9,1559.5 446.1,1561.9 450.3,1563.1 454.5,1565.6 458.7,1567.8 462.9,1569.3 467.1,1571.7 471.3,1573.7 475.4,1575.1 479.6,1578.3 483.8,1580.2 488,1581.6 492.2,1584 496.4,1586.1 500.6,1589.5 504.8,1591.5 508.9,1595.1 513.1,1598.4 517.3,1601.4 521.5,1604.3 525.7,1606.8 529.9,1608.8 534.1,1610.6 538.3,1611.9 542.4,1614.6 546.6,1617 550.8,1618.7 555,1620.4 559.2,1622.4 563.4,1622.8 567.6,1625.2 571.8,1626 575.9,1628.8 580.1,1631.7 584.3,1634.7 588.5,1636.2 592.7,1638.4 596.9,1640.2 600.5,1641.9 604.2,1645.5 607.8,1648.5 611.4,1651.5 615.1,1653.9 618.8,1655.6 622.6,1657.4 626.4,1659.6 630.2,1661.1 633.9,1664.9 637.7,1666.1 641.5,1667.7 645.2,1669.7 649.6,1671.1 654,1673.8 658.4,1675.8 662.8,1676.8 667.2,1679.7 671.6,1683.2 676,1685.1 680.4,1688.1 684.8,1689.3 689.2,1691.9 693.6,1692.9 698,1693.6 701.8,1695.7 705.5,1699.2 709.3,1701.2 713.1,1704.7 716.8,1704.6 720.6,1705.8 724.4,1707 728.1,1707.9 731.9,1709.3 735.7,1711 739.4,1711.9 743.2,1712.5 747,1715.8 750.8,1718.7 754.5,1720.2 758.3,1722.5 762.1,1723.3 765.8,1726.5 769.6,1728 773.4,1730.3 777.8,1732.3 782.2,1732 786.6,1732.8 791,1732.9 794.7,1734.4 798.5,1736.5 802.3,1739.4 806,1741.2 809.8,1742.3 813.6,1744 817.3,1744.9 821.1,1745.3 824.9,1747.9 828.6,1749.5 832.4,1751.7 836.2,1752.4 839.9,1754.2 843.7,1754.1 847.5,1754.2 851.3,1755.3 855,1757.7 858.8,1760.3 862.6,1762.3 866.3,1765 870.1,1766.3 873.9,1766.3 877.6,1766.2 881.4,1766.9 885.2,1769.4 888.9,1771.7 892.7,1773.2 896.5,1774.5 900.3,1775.6 904,1777.2 907.8,1777.6 911.6,1779.3 916,1783 920.4,1786.7 924.7,1790 929.1,1794.5 933.5,1794.9 937.9,1794.6 942.3,1795.8 946.7,1796.2 950.5,1799 954.3,1801.1 958,1802.8 961.8,1805.2 965.6,1806.2 969.3,1807.1 973.1,1808.6 976.9,1810.4 981.3,1810.5 985.7,1810.6 990.1,1810.5 994.2,1813.8 998.4,1816.8 1002.6,1820.1 1006.4,1820.7 1010.2,1822.2 1013.9,1821.4 1017.7,1822 1021.5,1823.9 1025.2,1825.8 1029,1826.3 1032.8,1827.4 1036.5,1829.3 1040.3,1831.6 1044.1,1833.7 1047.8,1834.2 1051.6,1836 1055.4,1838.2 1059.1,1839.6 1062.9,1840.5 1067.3,1841.9 1071.7,1843 1076.1,1845.6 1080.5,1847 1084.3,1846.2 1088,1845.3 1092.2,1848.4 1096.4,1851 1100.6,1853.7 1104.4,1854.7 1108.1,1855.5 1111.9,1856.5 1115.7,1857.2 1119.4,1859.4 1123.2,1860.7 1127,1862.2 1130.8,1863.8 1134.9,1864.5 1139.1,1866.5 1143.3,1867.2 1147.5,1868.1 1151.7,1870.7 1155.9,1872.7 1159.6,1873.5 1163.4,1875.2 1166.8,1878.9 1170.1,1882.3 1173.5,1884.7 1177.2,1885.2 1181,1884.9 1184.8,1885.2 1188.5,1885.4 1192.7,1886.9 1196.9,1889.2 1201.1,1890.6 1204.5,1892.4 1207.8,1893.7 1211.2,1894.6 1215.3,1896.1 1219.5,1897.7 1223.7,1899.4 1227.1,1900.6 1230.4,1903.1 1233.8,1904.6 1237.5,1905.5 1241.3,1905 1245.1,1905 1248.8,1906.5 1252.2,1908.3 1255.5,1910.6 1258.9,1913.2 1263.1,1913.5 1267.3,1915 1271.5,1917.3 1275.6,1919.8 1279.8,1921.9 1284,1924.4 1287.4,1925.9 1290.7,1927.8 1294.1,1929.8 1297.4,1928.9 1300.8,1928.6 1304.1,1928.1 1307.5,1930.3 1310.8,1932.6 1314.2,1933.8 1318.4,1936.5 1322.5,1938.8 1326.7,1940 1330.9,1940.3 1335.1,1940.1 1339.3,1940.7 1343.5,1944 1347.7,1946.3 1351.1,1946.2 1354.4,1946.1 1357.8,1946.1 1362,1948.2 1366.2,1950.1 1370.4,1952.9 1373.7,1953 1377.1,1952.7 1380.4,1953.4 1383.8,1955.2 1387.1,1957.8 1390.5,1959.2 1394.6,1961.3 1398.8,1962.2 1403,1962.9 1407.2,1965.4 1411.4,1966.8 1415.6,1968.7 1418.9,1972.1 1422.3,1975 1425.6,1978.3 1429.8,1976.8 1434,1975.2 1438.2,1973.6 1442.4,1976.8 1446.6,1979.5 1450.8,1982.9 1454.9,1984.4 1459.1,1984.3 1463.3,1984.8 1466.7,1986.9 1470,1987.5 1473.4,1988.5 1476.7,1990.9 1480.1,1993.6 1483.4,1997.2 1487.6,1996.8 1491.8,1997.1 1496,1997.4 1499.3,1999.3 1502.7,2001.6 1506,2004.3 1509.4,2005.3 1512.7,2006.5 1516.1,2006.3 1519.8,2008.5 1523.6,2012.4 1527,2012.3 1530.3,2012.7 1533.7,2012.4 1537.9,2015.4 1542,2019.9 1546.2,2022.3 1549.6,2021.9 1552.9,2022.4 1556.3,2022.4 1560.5,2023.7 1564.7,2026.2 1568.8,2028.8 1572.2,2028 1575.5,2028 1578.9,2028.7 1582.2,2032.1 1585.6,2033.1 1588.9,2035.5 1593.1,2037.1 1597.3,2038 1601.5,2039.1 1605.7,2040.1 1609.9,2041.5 1614.1,2041.8 1617.8,2044.4 1621.6,2046.7 1625.4,2048.9 1629.1,2050"/>
<polyline class="curve" stroke="#00f" stroke-width="10.8" points="230,1415.5 233.8,1419.6 237.6,1422.2 241.3,1424.7 245.1,1428.5 249.3,1433.4 253.5,1438 257.7,1442.5 261.9,1446.7 266.1,1450.8 270.3,1454.9 274.4,1459.6 278.6,1464.2 282.8,1469.4 287,1474.2 291.2,1478.1 295.4,1483.2 299.6,1487.3 303.8,1492 307.9,1496.7 312.1,1500.7 316.3,1503.7 320.5,1508.3 324.7,1511.7 328.9,1516.9 333.1,1520.6 337.3,1524.3 341.4,1529.1 345.6,1531.6 349.8,1535.6 354,1538.9 358.2,1542.7 362.4,1546.3 366.6,1550.8 370.8,1554.4 374.9,1558.3 379.1,1562.1 383.3,1564.7 387.5,1569.2 391.7,1572.5 395.9,1575.2 400.1,1578.6 404.3,1582.7 408.4,1586.5 412.6,1589.4 416.8,1592.8 421,1596.3 425.2,1600.1 429.4,1603.1 433.6,1606.8 437.8,1609.5 441.9,1612.5 446.1,1616.3 450.3,1619.2 454.5,1621.5 458.7,1624.2 462.9,1626.6 467.1,1629.4 471.3,1632.3 475.4,1634.7 479.6,1637.2 483.8,1639.2 488,1641.3 492.2,1642.6 496.4,1645.8 500.6,1648.8 504.8,1651.9 508.9,1653.6 513.1,1656.5 517.3,1659.2 521.5,1661.3 525.7,1664.9 529.9,1668.1 534.1,1669.8 538.3,1672.7 542.4,1676.1 546.6,1677.7 550.8,1681 555,1684.3 559.2,1687.5 563.4,1688.9 567.6,1691 571.8,1694 575.9,1697.4 580.1,1699.2 584.3,1701.7 588.5,1704.1 592.7,1707.7 596.9,1710.2 600.8,1713 604.6,1715.6 608.5,1718.5 612.4,1720.7 616.2,1723 620.1,1725.8 624.1,1728.4 628.1,1730.2 632.2,1732.7 636.2,1736.1 640.2,1738.9 644.2,1741.1 648.2,1743.8 652.3,1747.9 656.3,1749.7 660.3,1752.1 664.3,1753.7 668.3,1755 672.4,1757.3 676.4,1759.2 680.4,1760.8 684.4,1761.5 688.4,1764 692.5,1766 696.5,1767.4 700.5,1767.6 704.5,1770.1 708.5,1771.8 712.6,1774.1 716.6,1776.1 720.6,1778 724.6,1780.9 728.6,1782.9 732.7,1785.5 736.7,1786.8 740.7,1788.7 744.7,1791 748.7,1792.4 752.8,1793.4 756.8,1794.4 760.8,1795.8 764.8,1798.3 768.8,1801.1 772.9,1803.4 776.9,1805.9 780.9,1808.4 784.9,1810 788.9,1812.2 793,1814 797,1815.2 801,1816.7 805,1818.9 809,1820.7 813.1,1822.4 817.1,1825.1 821.1,1827.3 825.1,1829.3 829.1,1830.5 833.2,1832.2 837.2,1833.9 841.2,1835.1 845.2,1836.8 849.2,1838 853.3,1839.4 857.3,1841.5 861.3,1843.2 865.3,1845.6 869.3,1847.6 873.4,1850.6 877.4,1854.1 881.4,1855 885.4,1856.9 889.4,1858.1 893.5,1859.7 897.5,1861.1 901.5,1861.3 905.5,1863.8 909.5,1864.7 913.6,1866.1 917.6,1868 921.6,1869.4 925.6,1871 929.6,1872.2 933.7,1873.2 937.7,1875 941.7,1876 945.7,1878.8 949.7,1880.6 953.8,1883 957.8,1883.7 961.8,1884.5 965.8,1885 969.8,1886.8 973.9,1887.9 977.9,1890 981.9,1890.7 986.3,1894.4 990.7,1899.1 995.1,1903.1 999.3,1905 1003.5,1906.7 1007.6,1907.9 1011,1908 1014.3,1908.5 1017.7,1910.8 1021.5,1912.3 1025.2,1914.2 1029,1916 1032.8,1917.7 1037.2,1918.8 1041.6,1919.8 1046,1920.9 1050.4,1921.3 1054.7,1924.6 1059.1,1926.4 1063.5,1927.6 1067.9,1930 1072,1932.2 1076,1933.1 1080,1934.8 1084,1937.6 1088,1939.4 1092.1,1941.5 1096.1,1943.8 1100.1,1945.4 1104.1,1947.1 1108.1,1949.9 1111.9,1949.4 1115.7,1949.2 1119.4,1949.4 1123.2,1949.3 1127.6,1951.3 1132,1955.3 1136.4,1957.8 1140.8,1961.4 1144.8,1963 1148.8,1963.9 1152.9,1966.4 1156.9,1967.7 1160.9,1968.9 1164.3,1969 1167.6,1967.9 1171,1968.6 1174.7,1970.3 1178.5,1972.3 1182.3,1974 1186,1976.5 1189.8,1978.6 1193.6,1981 1197.3,1983.5 1201.1,1985 1205.5,1986.9 1209.9,1989.1 1214.3,1990.6 1218.7,1992.6 1222.5,1994.4 1226.2,1995.1 1230,1995.5 1233.8,1997.1 1237.5,1999.1 1241.3,2001.6 1245.1,2002.6 1248.8,2003.7 1252.9,2005.2 1256.9,2006.5 1260.9,2008 1264.9,2009 1268.9,2010.5 1272.7,2012.1 1276.5,2014.6 1280.3,2016.5 1284,2018.6 1287.8,2020 1291.6,2021.1 1295.3,2023.3 1299.1,2025.3 1302.4,2027.7 1305.8,2029.7 1309.1,2031.1 1313.5,2031.8 1317.9,2032.1 1322.3,2033.2 1326.7,2034.4 1330.7,2036.2 1334.7,2037.8 1338.7,2040.8 1342.7,2042.3 1346.5,2044.5 1350.3,2046.1 1354,2047.7 1357.8,2048 1362,2050.3 1366.2,2051.4 1370.4,2053.5 1374.1,2052.9 1377.9,2052.9 1382.1,2055.1 1386.3,2058.1 1390.5,2060.7 1393.8,2060.7 1397.2,2060.9 1400.5,2060.9 1404.9,2063 1409.3,2065 1413.7,2068 1418.1,2071.2 1421.9,2071.5 1425.6,2072.6 1429,2073.7 1432.3,2075.2 1435.7,2076.9 1439.4,2076.5 1443.2,2074.9 1447.6,2078.3 1452,2080.8 1456.4,2083.1 1460.8,2085.2 1465,2086.3 1469.2,2087.1 1473.4,2088.8 1476.7,2090 1480.1,2090 1483.4,2091.5 1487.6,2093.9 1491.8,2094.4 1496,2096.5 1500.2,2099.7 1504.4,2101.7 1508.5,2104.3 1512.7,2107.1 1516.9,2109.5 1521.1,2111.8 1524.9,2112.1 1528.6,2111.5 1532.4,2112.7 1536.2,2112.6 1539.5,2115 1542.9,2115.9 1546.2,2117.5 1549.6,2119.4 1552.9,2121.2 1556.3,2123.3 1559.6,2124.1 1563,2125.3 1566.3,2126 1569.7,2127.9 1573,2130.1 1576.4,2132.8 1580.6,2132.8 1584.8,2133.3 1588.9,2133.5 1592.7,2136.7 1596.5,2140.9 1599.8,2141.2 1603.2,2141.4 1606.5,2142 1610.7,2143.6 1614.9,2146.5 1619.1,2148.6 1622.9,2150.8 1626.6,2152.2 1630.4,2152.6 1634.2,2154 1637.9,2155.5"/>
<polyline class="curve" stroke="#0ff" stroke-width="10.2" points="230,1415.5 233.8,1420.6 237.6,1423.9 241.3,1427.3 245.1,1432 249.3,1437.2 253.5,1441.8 257.7,1445.7 261.9,1450.4 266.1,1456 270.3,1459.8 274.4,1465.1 278.6,1469.9 282.8,1474.6 287,1479.4 291.2,1483.5 295.4,1488 299.6,1493 303.8,1496.7 307.9,1500.5 312.1,1504 316.3,1508.2 320.5,1513 324.7,1517.9 328.9,1522.1 333.1,1526.4 337.3,1530.3 341.4,1534.1 345.6,1538.2 349.8,1541.7 354,1546 358.2,1549.5 362.4,1552.5 366.6,1555.9 370.8,1560.1 374.9,1564.2 379.1,1567.8 383.3,1571.8 387.5,1576.2 391.7,1580.6 395.9,1585 400.1,1588 404.3,1591.9 408.4,1595.9 412.6,1599.4 416.8,1603.7 421,1606.5 425.2,1609.5 429.4,1612.6 433.6,1615.4 437.8,1618.5 441.9,1621.8 446.1,1624.9 450.3,1627.6 454.5,1630.4 458.7,1633.4 462.9,1635.7 467.1,1639.1 471.3,1641.7 475.4,1644.6 479.6,1647 483.8,1650.1 488,1652.9 492.2,1655.7 496.4,1658.2 500.6,1661.2 504.8,1664.8 508.9,1666.4 513.1,1669.6 517.3,1672.5 521.5,1675 525.7,1677.1 529.9,1680.9 534.1,1683.6 538.3,1686.7 542.4,1689 546.6,1691.2 550.8,1694.6 555,1697.5 559.2,1699.8 563.4,1702.4 567.6,1705.4 571.8,1707.6 575.9,1709.8 580.1,1712.5 584.3,1715.6 588.5,1718.4 592.7,1720.8 596.9,1723.8 600.8,1726.4 604.6,1729 608.5,1733.1 612.4,1735.4 616.2,1738.6 620.1,1741.6 624.1,1743.7 628.1,1745.9 632.2,1748.4 636.2,1750.7 640.2,1752.4 644.2,1754.9 648.2,1758.1 652.3,1760.6 656.3,1762.6 660.3,1765.1 664.3,1766.8 668.3,1768.6 672.4,1770.9 676.4,1774.3 680.4,1776.1 684.4,1777.2 688.4,1779.5 692.5,1781.5 696.5,1784.2 700.5,1786.8 704.5,1788.2 708.5,1789.9 712.6,1791.2 716.6,1793.7 720.6,1794.9 724.6,1797 728.6,1800.2 732.7,1801.3 736.7,1803.3 740.7,1805.2 744.7,1807.4 748.7,1809.5 752.8,1812.1 756.8,1813.9 760.8,1815.9 764.8,1817 768.8,1819.3 772.9,1820.6 776.9,1823.4 780.9,1825.3 784.9,1826.5 788.9,1826.8 793,1827.6 797,1828.3 801,1829.3 805,1831.6 809,1833.8 813.1,1836.2 817.1,1838.5 821.1,1840.8 825.1,1842.2 829.1,1843.7 833.2,1846.9 837.2,1848.3 841.2,1849.6 845.2,1852.1 849.2,1854 853.3,1855.6 857.3,1857.9 861.3,1860.4 865.3,1861.5 869.3,1864 873.4,1866 877.4,1868.2 881.4,1869.5 885.4,1872 889.4,1873.9 893.5,1873.9 897.5,1876.5 901.5,1878.8 905.5,1879 909.5,1880.5 913.6,1881.7 917.6,1883.1 921.6,1883.9 925.6,1886.1 929.6,1888.2 933.7,1889.7 937.7,1891.4 941.7,1892.2 945.7,1894.6 949.7,1895.8 953.8,1897.9 957.8,1899.4 961.8,1902.7 965.8,1904.1 969.8,1906.4 973.9,1907.7 977.9,1909.2 981.9,1911.2 985.5,1913.6 989,1917.3 992.6,1919.4 997,1921.5 1001.4,1922 1005.8,1923.1 1010.2,1925.1 1013.9,1926.3 1017.7,1929.4 1021.5,1931.3 1025.2,1932.9 1028.6,1934.1 1031.9,1933.8 1035.3,1933.7 1039,1934.3 1042.8,1935.8 1046.6,1938.2 1050.4,1939.6 1054.7,1942.9 1059.1,1945.8 1063.5,1948.2 1067.9,1949.5 1071.7,1950.3 1075.5,1950.8 1079.2,1952.6 1083,1954.2 1087.2,1956.5 1091.4,1959 1095.6,1961.6 1099.3,1963.1 1103.1,1963.8 1106.9,1964.6 1110.7,1966.5 1114.7,1968.2 1118.7,1969.9 1122.7,1971.2 1126.7,1973 1130.8,1974.5 1134.1,1975.7 1137.5,1978.2 1140.8,1980.1 1144.2,1979.9 1147.5,1980.1 1150.9,1980.1 1154.2,1982 1157.6,1984.3 1160.9,1986.5 1165.3,1988.9 1169.7,1991.7 1174.1,1994.1 1178.5,1995.7 1181.8,1996 1185.2,1995.9 1188.5,1995.6 1192.9,1999.1 1197.3,2001.1 1201.7,2004.3 1206.1,2005.9 1209.9,2007.6 1213.7,2008.6 1217.4,2010.6 1221.2,2012 1225.2,2013.2 1229.2,2015.4 1233.3,2017.7 1237.3,2019.8 1241.3,2021.9 1245.1,2022.4 1248.8,2024.4 1252.2,2026.1 1255.5,2028.3 1258.9,2029.9 1262.7,2030.7 1266.4,2030.8 1270.2,2031.9 1274,2031.8 1278.4,2035.1 1282.8,2037.3 1287.2,2039.8 1291.6,2041.8 1296,2042.7 1300.4,2043.8 1304.7,2044.9 1309.1,2045 1313.5,2046.5 1317.9,2048.6 1322.3,2051.3 1326.7,2052.5 1330.4,2054.7 1334.1,2056.4 1337.8,2058.9 1341.5,2061.1 1345.2,2062.3 1349.4,2062.7 1353.6,2064.6 1357.8,2065.8 1361.1,2067.6 1364.5,2069.9 1367.8,2071.8 1371.6,2072.8 1375.4,2073.4 1379.1,2074.5 1382.9,2076.2 1386.3,2078.2 1389.6,2079.9 1393,2081.1 1397.2,2082.5 1401.3,2083.1 1405.5,2084 1409.7,2085.8 1413.9,2086.8 1418.1,2088.8 1421.4,2090.5 1424.8,2094.2 1428.1,2097.1 1432.3,2097.8 1436.5,2098.1 1440.7,2098.7 1444.5,2101.1 1448.2,2103 1451.6,2103.2 1454.9,2103.1 1458.3,2103.9 1461.6,2107.1 1465,2110.1 1468.3,2111.6 1472.5,2112.6 1476.7,2115.2 1480.9,2117.2 1485.1,2118.7 1489.3,2120 1493.5,2121 1497.2,2122.8 1501,2123.6 1504.8,2124.3 1508.5,2124.3 1511.9,2126 1515.2,2128.3 1518.6,2129.9 1522.4,2131.3 1526.1,2132.1 1529.9,2133.6 1533.7,2134.3 1537.9,2135.4 1542,2137.2 1546.2,2139.1 1550.4,2140.2 1554.6,2141.5 1558.8,2143 1562.1,2145.4 1565.5,2148 1568.8,2150.9 1573,2153 1577.2,2155 1581.4,2157.2 1584.8,2157.8 1588.1,2159.7 1591.5,2162.5 1594.8,2161.3 1598.2,2160.7 1601.5,2160.5 1604.9,2164 1608.2,2166.6 1611.6,2168.9 1614.9,2171.1 1618.3,2171 1621.6,2172.2 1625.7,2172.5 1629.8,2172 1633.9,2173.7 1637.9,2174.4"/>
</g>
<g class="annot">
<rect class="tag" x="295" y="2152" width="276.2" height="98"/>
<text transform="translate(314 2225.6) scale(0.979 1)" font-size="56">Sample 2</text>
<text transform="translate(623.3 1498.6) scale(0.943 1.045)" font-size="66">a</text>
<text x="741.3" y="1570.7" font-size="66">b</text>
<text transform="translate(885.2 1603.2) scale(1 1.045)" font-size="66">c</text>
<text transform="translate(871.5 2042.3) scale(1.03 1.01)" font-size="66">d</text>
<line class="aline" x1="610.5" y1="1503.5" x2="591.8" y2="1524.7" stroke-width="11.3"/><polygon class="ahead" stroke-width="8" points="578,1540.5 583.7,1514.9 602.7,1531.6"/>
<line class="aline" x1="730.5" y1="1581.5" x2="689.2" y2="1636.4" stroke-width="11.3"/><polygon class="ahead" stroke-width="8" points="676.6,1653.2 680.3,1627.2 700.5,1642.4"/>
<line class="aline" x1="888.3" y1="1629.5" x2="797.5" y2="1775.6" stroke-width="11.3"/><polygon class="ahead" stroke-width="8" points="786.4,1793.4 787.8,1767.2 809.3,1780.6"/>
<line class="aline" x1="915" y1="1981" x2="943.8" y2="1936.8" stroke-width="11.3"/><polygon class="ahead" stroke-width="8" points="955.2,1919.2 953.3,1945.4 932.1,1931.6"/>
</g>
</g>
</svg>
</body>
</html>
